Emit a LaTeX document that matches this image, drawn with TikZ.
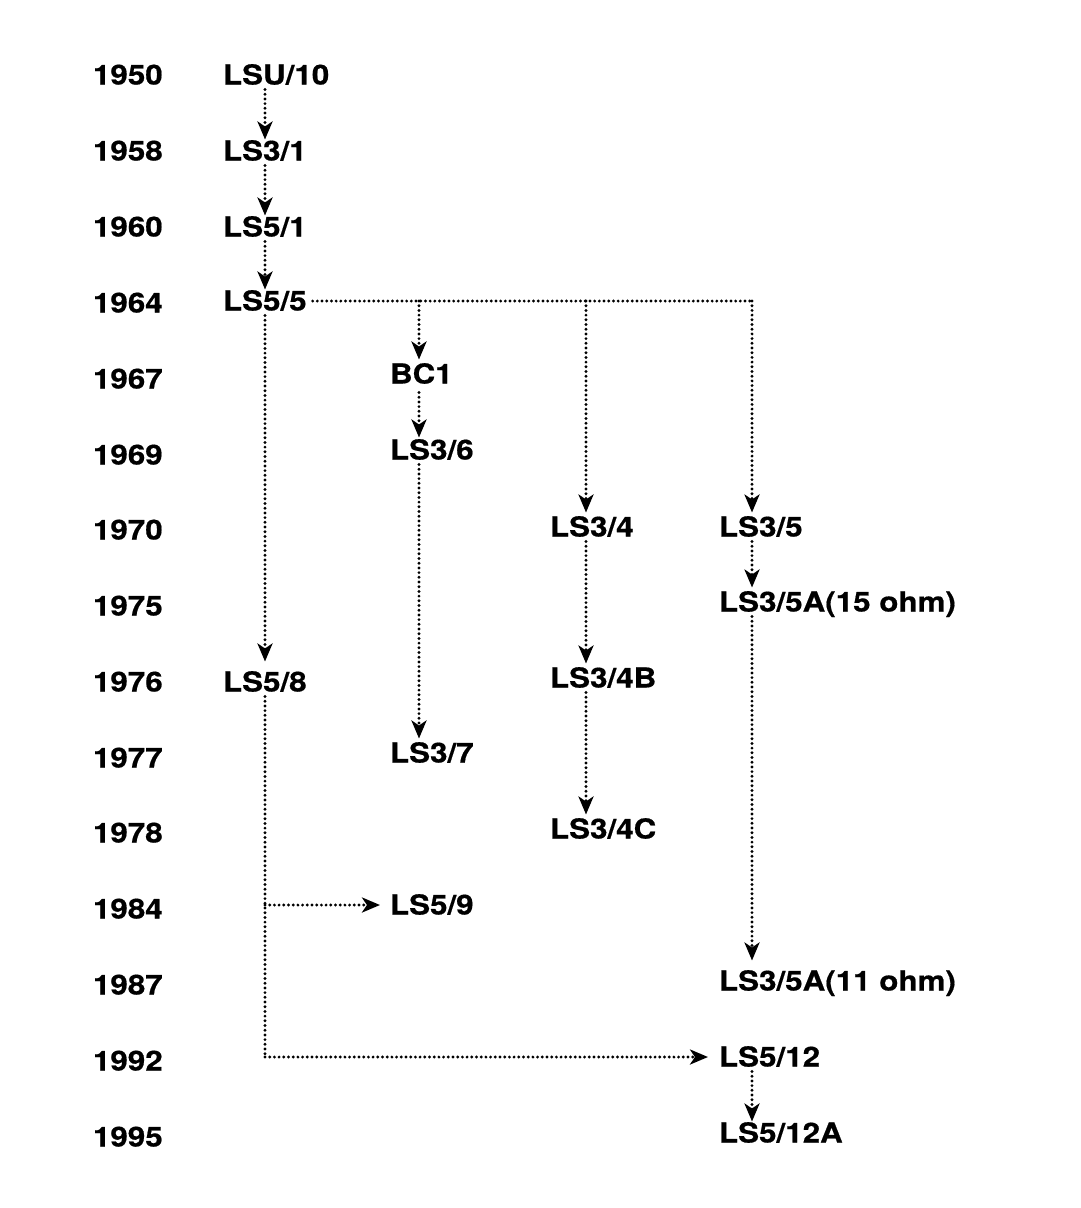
\documentclass[tikz,border=0pt]{standalone}
\usepackage{fontspec}
\setmainfont{TeX Gyre Heros}[FakeStretch=1.14,BoldFeatures={FakeBold=0.6}]
\usetikzlibrary{arrows.meta}
\begin{document}
\begin{tikzpicture}[x=1pt,y=-1pt,
  lbl/.style={anchor=west,inner xsep=0pt,inner ysep=4pt,outer sep=0pt,
    text height=20pt,text depth=1pt,font=\fontsize{27.5}{33}\selectfont\bfseries},
  con/.style={line width=3.2pt,dash pattern=on 0pt off 4.7pt,line cap=round},
  arr/.style={con,-{Stealth[length=18pt,width=15pt,inset=5pt]}}]
\useasboundingbox[fill=white] (0,0) rectangle (1080,1208);
% years
\foreach \yr/\yy in {1950/75,1958/151,1960/227,1964/303,1967/379,1969/455,1970/530,1975/606,1976/682,1977/758,1978/833,1984/909,1987/985,1992/1061,1995/1137}
  \node[lbl] (y\yr) at (93,\yy) {\yr};
% column guides
\coordinate (c1) at (265,0);
\coordinate (c2) at (419,0);
\coordinate (c3) at (586,0);
\coordinate (c4) at (752,0);
% models
\node[lbl] (lsu10) at (223,75) {LSU/10};
\node[lbl] (ls31) at (223,151) {LS3/1};
\node[lbl] (ls51) at (223,227) {LS5/1};
\node[lbl] (ls55) at (223,301) {LS5/5};
\node[lbl] (bc1) at (390,374) {BC1};
\node[lbl] (ls36) at (390,450) {LS3/6};
\node[lbl] (ls34) at (550,527) {LS3/4};
\node[lbl] (ls35) at (719,527) {LS3/5};
\node[lbl] (ls35a15) at (719,602) {LS3/5A(15 ohm)};
\node[lbl] (ls58) at (223,682) {LS5/8};
\node[lbl] (ls34b) at (550,678) {LS3/4B};
\node[lbl] (ls37) at (390,753) {LS3/7};
\node[lbl] (ls34c) at (550,829) {LS3/4C};
\node[lbl] (ls59) at (390,905) {LS5/9};
\node[lbl] (ls35a11) at (719,981) {LS3/5A(11 ohm)};
\node[lbl] (ls512) at (719,1057) {LS5/12};
\node[lbl] (ls512a) at (719,1133) {LS5/12A};
% connectors
\draw[arr,shorten >=-3pt] (lsu10.south -| c1) -- (ls31.north -| c1);
\draw[arr,shorten >=-3pt] (ls31.south -| c1) -- (ls51.north -| c1);
\draw[arr,shorten >=-3pt] (ls51.south -| c1) -- (ls55.north -| c1);
\draw[arr,shorten >=6pt] (ls55.south -| c1) -- (ls58.north -| c1);
\draw[con] ([xshift=6pt]ls55.east) -- (ls55.east -| c4);
\draw[arr] (ls55.east -| c2) -- (bc1.north -| c2);
\draw[arr] (ls55.east -| c3) -- (ls34.north -| c3);
\draw[arr] (ls55.east -| c4) -- (ls35.north -| c4);
\draw[arr,shorten >=-2pt] ([yshift=-4pt]bc1.south -| c2) -- (ls36.north -| c2);
\draw[arr] (ls36.south -| c2) -- (ls37.north -| c2);
\draw[arr] (ls34.south -| c3) -- (ls34b.north -| c3);
\draw[arr] (ls34b.south -| c3) -- (ls34c.north -| c3);
\draw[arr] (ls35.south -| c4) -- (ls35a15.north -| c4);
\draw[arr,shorten >=6pt] (ls35a15.south -| c4) -- (ls35a11.north -| c4);
\draw[arr,shorten >=-3pt] (ls512.south -| c4) -- (ls512a.north -| c4);
\draw[con] (ls58.south -| c1) -- (ls512.west -| c1);
\draw[arr,shorten >=10pt] (ls59.west -| c1) -- (ls59.west);
\draw[arr,shorten >=11pt] (ls512.west -| c1) -- (ls512.west);
\end{tikzpicture}
\end{document}
